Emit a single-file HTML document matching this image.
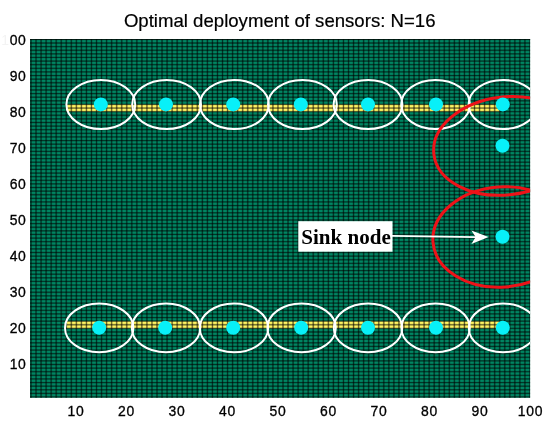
<!DOCTYPE html>
<html><head><meta charset="utf-8"><title>Optimal deployment of sensors</title>
<style>
html,body{margin:0;padding:0;background:#fff;}
body{width:550px;height:425px;overflow:hidden;position:relative;font-family:"Liberation Sans",Arial,sans-serif;}
svg{position:absolute;left:0;top:0;display:block;}
text{font-family:"Liberation Sans",Arial,sans-serif;fill:#000;}
.tk{font-size:15px;letter-spacing:0.72px;stroke:#000;stroke-width:0.32px;}
.ttl{font-size:18.6px;stroke:#000;stroke-width:0.2px;}
.sink{font-family:"Liberation Serif","Times New Roman",serif;font-weight:bold;font-size:21.2px;fill:#000;}
</style></head><body>
<svg width="550" height="425" viewBox="0 0 550 425">
<defs>
<clipPath id="cp"><rect x="30.00" y="38.95" width="500.10" height="358.90"/></clipPath>
</defs>
<rect x="0" y="0" width="550" height="425" fill="#fff"/>

<g clip-path="url(#cp)"><g>
<rect x="27.00" y="35.95" width="506.10" height="364.90" fill="#008562"/>
<rect x="66.28" y="104.43" width="433.44" height="7.22" fill="#fff462"/>
<rect x="66.28" y="321.15" width="433.44" height="7.22" fill="#fff462"/>
<path d="M31.00 35.95V400.85M36.04 35.95V400.85M41.08 35.95V400.85M46.12 35.95V400.85M51.16 35.95V400.85M56.20 35.95V400.85M61.24 35.95V400.85M66.28 35.95V400.85M71.32 35.95V400.85M76.36 35.95V400.85M81.40 35.95V400.85M86.44 35.95V400.85M91.48 35.95V400.85M96.52 35.95V400.85M101.56 35.95V400.85M106.60 35.95V400.85M111.64 35.95V400.85M116.68 35.95V400.85M121.72 35.95V400.85M126.76 35.95V400.85M131.80 35.95V400.85M136.84 35.95V400.85M141.88 35.95V400.85M146.92 35.95V400.85M151.96 35.95V400.85M157.00 35.95V400.85M162.04 35.95V400.85M167.08 35.95V400.85M172.12 35.95V400.85M177.16 35.95V400.85M182.20 35.95V400.85M187.24 35.95V400.85M192.28 35.95V400.85M197.32 35.95V400.85M202.36 35.95V400.85M207.40 35.95V400.85M212.44 35.95V400.85M217.48 35.95V400.85M222.52 35.95V400.85M227.56 35.95V400.85M232.60 35.95V400.85M237.64 35.95V400.85M242.68 35.95V400.85M247.72 35.95V400.85M252.76 35.95V400.85M257.80 35.95V400.85M262.84 35.95V400.85M267.88 35.95V400.85M272.92 35.95V400.85M277.96 35.95V400.85M283.00 35.95V400.85M288.04 35.95V400.85M293.08 35.95V400.85M298.12 35.95V400.85M303.16 35.95V400.85M308.20 35.95V400.85M313.24 35.95V400.85M318.28 35.95V400.85M323.32 35.95V400.85M328.36 35.95V400.85M333.40 35.95V400.85M338.44 35.95V400.85M343.48 35.95V400.85M348.52 35.95V400.85M353.56 35.95V400.85M358.60 35.95V400.85M363.64 35.95V400.85M368.68 35.95V400.85M373.72 35.95V400.85M378.76 35.95V400.85M383.80 35.95V400.85M388.84 35.95V400.85M393.88 35.95V400.85M398.92 35.95V400.85M403.96 35.95V400.85M409.00 35.95V400.85M414.04 35.95V400.85M419.08 35.95V400.85M424.12 35.95V400.85M429.16 35.95V400.85M434.20 35.95V400.85M439.24 35.95V400.85M444.28 35.95V400.85M449.32 35.95V400.85M454.36 35.95V400.85M459.40 35.95V400.85M464.44 35.95V400.85M469.48 35.95V400.85M474.52 35.95V400.85M479.56 35.95V400.85M484.60 35.95V400.85M489.64 35.95V400.85M494.68 35.95V400.85M499.72 35.95V400.85M504.76 35.95V400.85M509.80 35.95V400.85M514.84 35.95V400.85M519.88 35.95V400.85M524.92 35.95V400.85M529.96 35.95V400.85" stroke="#000" stroke-opacity="0.48" stroke-width="1.00" fill="none"/>
<path d="M31.00 35.95V400.85M36.04 35.95V400.85M41.08 35.95V400.85M46.12 35.95V400.85M51.16 35.95V400.85M56.20 35.95V400.85M61.24 35.95V400.85M66.28 35.95V400.85M71.32 35.95V400.85M76.36 35.95V400.85M81.40 35.95V400.85M86.44 35.95V400.85M91.48 35.95V400.85M96.52 35.95V400.85M101.56 35.95V400.85M106.60 35.95V400.85M111.64 35.95V400.85M116.68 35.95V400.85M121.72 35.95V400.85M126.76 35.95V400.85M131.80 35.95V400.85M136.84 35.95V400.85M141.88 35.95V400.85M146.92 35.95V400.85M151.96 35.95V400.85M157.00 35.95V400.85M162.04 35.95V400.85M167.08 35.95V400.85M172.12 35.95V400.85M177.16 35.95V400.85M182.20 35.95V400.85M187.24 35.95V400.85M192.28 35.95V400.85M197.32 35.95V400.85M202.36 35.95V400.85M207.40 35.95V400.85M212.44 35.95V400.85M217.48 35.95V400.85M222.52 35.95V400.85M227.56 35.95V400.85M232.60 35.95V400.85M237.64 35.95V400.85M242.68 35.95V400.85M247.72 35.95V400.85M252.76 35.95V400.85M257.80 35.95V400.85M262.84 35.95V400.85M267.88 35.95V400.85M272.92 35.95V400.85M277.96 35.95V400.85M283.00 35.95V400.85M288.04 35.95V400.85M293.08 35.95V400.85M298.12 35.95V400.85M303.16 35.95V400.85M308.20 35.95V400.85M313.24 35.95V400.85M318.28 35.95V400.85M323.32 35.95V400.85M328.36 35.95V400.85M333.40 35.95V400.85M338.44 35.95V400.85M343.48 35.95V400.85M348.52 35.95V400.85M353.56 35.95V400.85M358.60 35.95V400.85M363.64 35.95V400.85M368.68 35.95V400.85M373.72 35.95V400.85M378.76 35.95V400.85M383.80 35.95V400.85M388.84 35.95V400.85M393.88 35.95V400.85M398.92 35.95V400.85M403.96 35.95V400.85M409.00 35.95V400.85M414.04 35.95V400.85M419.08 35.95V400.85M424.12 35.95V400.85M429.16 35.95V400.85M434.20 35.95V400.85M439.24 35.95V400.85M444.28 35.95V400.85M449.32 35.95V400.85M454.36 35.95V400.85M459.40 35.95V400.85M464.44 35.95V400.85M469.48 35.95V400.85M474.52 35.95V400.85M479.56 35.95V400.85M484.60 35.95V400.85M489.64 35.95V400.85M494.68 35.95V400.85M499.72 35.95V400.85M504.76 35.95V400.85M509.80 35.95V400.85M514.84 35.95V400.85M519.88 35.95V400.85M524.92 35.95V400.85M529.96 35.95V400.85" stroke="#000" stroke-opacity="0.22" stroke-width="2.00" fill="none"/>
<path d="M27.00 397.00H533.10M27.00 393.39H533.10M27.00 389.78H533.10M27.00 386.16H533.10M27.00 382.55H533.10M27.00 378.94H533.10M27.00 375.33H533.10M27.00 371.72H533.10M27.00 368.10H533.10M27.00 364.49H533.10M27.00 360.88H533.10M27.00 357.27H533.10M27.00 353.66H533.10M27.00 350.04H533.10M27.00 346.43H533.10M27.00 342.82H533.10M27.00 339.21H533.10M27.00 335.60H533.10M27.00 331.98H533.10M27.00 328.37H533.10M27.00 324.76H533.10M27.00 321.15H533.10M27.00 317.54H533.10M27.00 313.92H533.10M27.00 310.31H533.10M27.00 306.70H533.10M27.00 303.09H533.10M27.00 299.48H533.10M27.00 295.86H533.10M27.00 292.25H533.10M27.00 288.64H533.10M27.00 285.03H533.10M27.00 281.42H533.10M27.00 277.80H533.10M27.00 274.19H533.10M27.00 270.58H533.10M27.00 266.97H533.10M27.00 263.36H533.10M27.00 259.74H533.10M27.00 256.13H533.10M27.00 252.52H533.10M27.00 248.91H533.10M27.00 245.30H533.10M27.00 241.68H533.10M27.00 238.07H533.10M27.00 234.46H533.10M27.00 230.85H533.10M27.00 227.24H533.10M27.00 223.62H533.10M27.00 220.01H533.10M27.00 216.40H533.10M27.00 212.79H533.10M27.00 209.18H533.10M27.00 205.56H533.10M27.00 201.95H533.10M27.00 198.34H533.10M27.00 194.73H533.10M27.00 191.12H533.10M27.00 187.50H533.10M27.00 183.89H533.10M27.00 180.28H533.10M27.00 176.67H533.10M27.00 173.06H533.10M27.00 169.44H533.10M27.00 165.83H533.10M27.00 162.22H533.10M27.00 158.61H533.10M27.00 155.00H533.10M27.00 151.38H533.10M27.00 147.77H533.10M27.00 144.16H533.10M27.00 140.55H533.10M27.00 136.94H533.10M27.00 133.32H533.10M27.00 129.71H533.10M27.00 126.10H533.10M27.00 122.49H533.10M27.00 118.88H533.10M27.00 115.26H533.10M27.00 111.65H533.10M27.00 108.04H533.10M27.00 104.43H533.10M27.00 100.82H533.10M27.00 97.20H533.10M27.00 93.59H533.10M27.00 89.98H533.10M27.00 86.37H533.10M27.00 82.76H533.10M27.00 79.14H533.10M27.00 75.53H533.10M27.00 71.92H533.10M27.00 68.31H533.10M27.00 64.70H533.10M27.00 61.08H533.10M27.00 57.47H533.10M27.00 53.86H533.10M27.00 50.25H533.10M27.00 46.64H533.10M27.00 43.02H533.10M27.00 39.41H533.10M27.00 39.45H533.10" stroke="#000" stroke-opacity="0.48" stroke-width="1.00" fill="none"/>
<path d="M27.00 397.00H533.10M27.00 393.39H533.10M27.00 389.78H533.10M27.00 386.16H533.10M27.00 382.55H533.10M27.00 378.94H533.10M27.00 375.33H533.10M27.00 371.72H533.10M27.00 368.10H533.10M27.00 364.49H533.10M27.00 360.88H533.10M27.00 357.27H533.10M27.00 353.66H533.10M27.00 350.04H533.10M27.00 346.43H533.10M27.00 342.82H533.10M27.00 339.21H533.10M27.00 335.60H533.10M27.00 331.98H533.10M27.00 328.37H533.10M27.00 324.76H533.10M27.00 321.15H533.10M27.00 317.54H533.10M27.00 313.92H533.10M27.00 310.31H533.10M27.00 306.70H533.10M27.00 303.09H533.10M27.00 299.48H533.10M27.00 295.86H533.10M27.00 292.25H533.10M27.00 288.64H533.10M27.00 285.03H533.10M27.00 281.42H533.10M27.00 277.80H533.10M27.00 274.19H533.10M27.00 270.58H533.10M27.00 266.97H533.10M27.00 263.36H533.10M27.00 259.74H533.10M27.00 256.13H533.10M27.00 252.52H533.10M27.00 248.91H533.10M27.00 245.30H533.10M27.00 241.68H533.10M27.00 238.07H533.10M27.00 234.46H533.10M27.00 230.85H533.10M27.00 227.24H533.10M27.00 223.62H533.10M27.00 220.01H533.10M27.00 216.40H533.10M27.00 212.79H533.10M27.00 209.18H533.10M27.00 205.56H533.10M27.00 201.95H533.10M27.00 198.34H533.10M27.00 194.73H533.10M27.00 191.12H533.10M27.00 187.50H533.10M27.00 183.89H533.10M27.00 180.28H533.10M27.00 176.67H533.10M27.00 173.06H533.10M27.00 169.44H533.10M27.00 165.83H533.10M27.00 162.22H533.10M27.00 158.61H533.10M27.00 155.00H533.10M27.00 151.38H533.10M27.00 147.77H533.10M27.00 144.16H533.10M27.00 140.55H533.10M27.00 136.94H533.10M27.00 133.32H533.10M27.00 129.71H533.10M27.00 126.10H533.10M27.00 122.49H533.10M27.00 118.88H533.10M27.00 115.26H533.10M27.00 111.65H533.10M27.00 108.04H533.10M27.00 104.43H533.10M27.00 100.82H533.10M27.00 97.20H533.10M27.00 93.59H533.10M27.00 89.98H533.10M27.00 86.37H533.10M27.00 82.76H533.10M27.00 79.14H533.10M27.00 75.53H533.10M27.00 71.92H533.10M27.00 68.31H533.10M27.00 64.70H533.10M27.00 61.08H533.10M27.00 57.47H533.10M27.00 53.86H533.10M27.00 50.25H533.10M27.00 46.64H533.10M27.00 43.02H533.10M27.00 39.41H533.10M27.00 39.45H533.10" stroke="#000" stroke-opacity="0.24" stroke-width="1.80" fill="none"/>
</g></g>
<g clip-path="url(#cp)">
<ellipse cx="100.8" cy="104.5" rx="34.4" ry="24.6" fill="none" stroke="#fff" stroke-width="2"/>
<ellipse cx="166.6" cy="104.5" rx="34.4" ry="24.6" fill="none" stroke="#fff" stroke-width="2"/>
<ellipse cx="234.4" cy="104.5" rx="34.4" ry="24.6" fill="none" stroke="#fff" stroke-width="2"/>
<ellipse cx="302.4" cy="104.5" rx="34.4" ry="24.6" fill="none" stroke="#fff" stroke-width="2"/>
<ellipse cx="368.0" cy="104.5" rx="34.4" ry="24.6" fill="none" stroke="#fff" stroke-width="2"/>
<ellipse cx="435.6" cy="104.5" rx="34.4" ry="24.6" fill="none" stroke="#fff" stroke-width="2"/>
<ellipse cx="503.0" cy="104.5" rx="34.4" ry="24.6" fill="none" stroke="#fff" stroke-width="2"/>
<ellipse cx="99.2" cy="327.9" rx="34.2" ry="24.4" fill="none" stroke="#fff" stroke-width="2"/>
<ellipse cx="166.0" cy="327.9" rx="34.2" ry="24.4" fill="none" stroke="#fff" stroke-width="2"/>
<ellipse cx="234.0" cy="327.9" rx="34.2" ry="24.4" fill="none" stroke="#fff" stroke-width="2"/>
<ellipse cx="301.6" cy="327.9" rx="34.2" ry="24.4" fill="none" stroke="#fff" stroke-width="2"/>
<ellipse cx="368.0" cy="327.9" rx="34.2" ry="24.4" fill="none" stroke="#fff" stroke-width="2"/>
<ellipse cx="435.6" cy="327.9" rx="34.2" ry="24.4" fill="none" stroke="#fff" stroke-width="2"/>
<ellipse cx="503.0" cy="327.9" rx="34.2" ry="24.4" fill="none" stroke="#fff" stroke-width="2"/>
<ellipse cx="505.9" cy="145.9" rx="72.5" ry="49" transform="rotate(-6.7 505.9 145.9)" fill="none" stroke="#ee1218" stroke-width="3"/>
<ellipse cx="501.8" cy="237" rx="69" ry="50.2" transform="rotate(-4.3 501.8 237)" fill="none" stroke="#ee1218" stroke-width="3"/>
<circle cx="100.8" cy="104.4" r="7" fill="#08f0f8"/>
<circle cx="166.0" cy="104.4" r="7" fill="#08f0f8"/>
<circle cx="233.2" cy="104.4" r="7" fill="#08f0f8"/>
<circle cx="300.8" cy="104.4" r="7" fill="#08f0f8"/>
<circle cx="368.0" cy="104.4" r="7" fill="#08f0f8"/>
<circle cx="436.0" cy="104.4" r="7" fill="#08f0f8"/>
<circle cx="502.8" cy="104.4" r="7" fill="#08f0f8"/>
<circle cx="99.2" cy="327.8" r="7" fill="#08f0f8"/>
<circle cx="165.2" cy="327.8" r="7" fill="#08f0f8"/>
<circle cx="233.2" cy="327.8" r="7" fill="#08f0f8"/>
<circle cx="301.2" cy="327.8" r="7" fill="#08f0f8"/>
<circle cx="368.0" cy="327.8" r="7" fill="#08f0f8"/>
<circle cx="436.0" cy="327.8" r="7" fill="#08f0f8"/>
<circle cx="502.8" cy="327.8" r="7" fill="#08f0f8"/>
<circle cx="502.5" cy="145.7" r="7" fill="#08f0f8"/>
<circle cx="502.5" cy="236.8" r="7" fill="#08f0f8"/>
<path d="M392 235.9L476 237.1" stroke="#fff" stroke-width="1.8" fill="none"/>
<path d="M488.6 237.1L471.4 230.4L475.6 237.1L471.4 244Z" fill="#fff"/>
<rect x="298.3" y="221.2" width="94.2" height="30.5" fill="#fff"/>
</g>
<text class="sink" x="301.2" y="243.8" textLength="89.6" lengthAdjust="spacingAndGlyphs">Sink node</text>
<text class="ttl" x="279.7" y="27.3" text-anchor="middle">Optimal deployment of sensors: N=16</text>
<text class="tk" transform="translate(75.93 415.9) scale(0.93 1)" text-anchor="middle">10</text>
<text class="tk" transform="translate(126.43 415.9) scale(0.93 1)" text-anchor="middle">20</text>
<text class="tk" transform="translate(176.93 415.9) scale(0.93 1)" text-anchor="middle">30</text>
<text class="tk" transform="translate(227.43 415.9) scale(0.93 1)" text-anchor="middle">40</text>
<text class="tk" transform="translate(277.93 415.9) scale(0.93 1)" text-anchor="middle">50</text>
<text class="tk" transform="translate(328.43 415.9) scale(0.93 1)" text-anchor="middle">60</text>
<text class="tk" transform="translate(378.93 415.9) scale(0.93 1)" text-anchor="middle">70</text>
<text class="tk" transform="translate(429.43 415.9) scale(0.93 1)" text-anchor="middle">80</text>
<text class="tk" transform="translate(479.93 415.9) scale(0.93 1)" text-anchor="middle">90</text>
<text class="tk" transform="translate(530.43 415.9) scale(0.93 1)" text-anchor="middle">100</text>
<text class="tk" transform="translate(26.47 369.20) scale(0.93 1)" text-anchor="end">10</text>
<text class="tk" transform="translate(26.47 333.12) scale(0.93 1)" text-anchor="end">20</text>
<text class="tk" transform="translate(26.47 297.04) scale(0.93 1)" text-anchor="end">30</text>
<text class="tk" transform="translate(26.47 260.96) scale(0.93 1)" text-anchor="end">40</text>
<text class="tk" transform="translate(26.47 224.88) scale(0.93 1)" text-anchor="end">50</text>
<text class="tk" transform="translate(26.47 188.80) scale(0.93 1)" text-anchor="end">60</text>
<text class="tk" transform="translate(26.47 152.72) scale(0.93 1)" text-anchor="end">70</text>
<text class="tk" transform="translate(26.47 116.64) scale(0.93 1)" text-anchor="end">80</text>
<text class="tk" transform="translate(26.47 80.56) scale(0.93 1)" text-anchor="end">90</text>
<text class="tk" transform="translate(26.47 44.50) scale(0.93 1)" text-anchor="end"><tspan fill="#f3f3f3" stroke="none">1</tspan>00</text>
</svg></body></html>
